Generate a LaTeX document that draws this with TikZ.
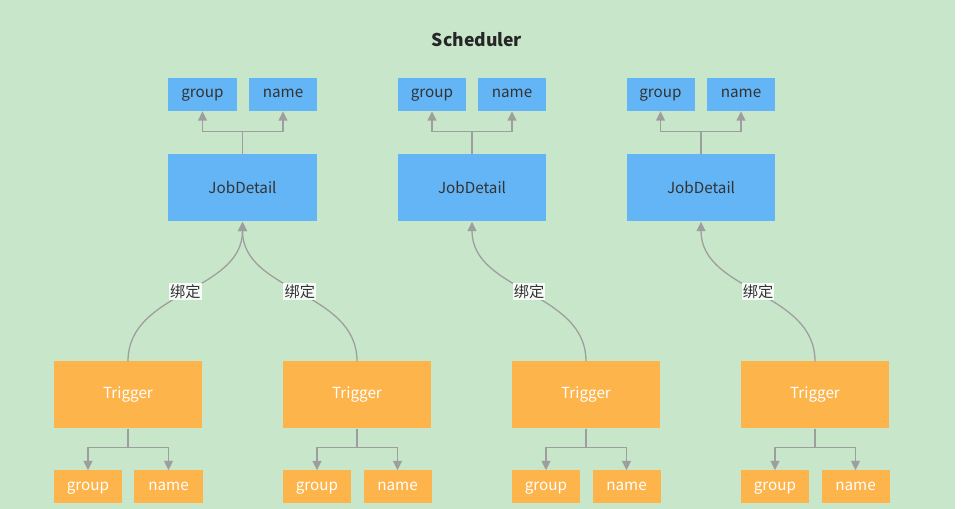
\documentclass[tikz,border=0pt]{standalone}
\usepackage{fontspec}
\setmainfont{Noto Sans CJK SC}
\usetikzlibrary{arrows.meta}
\definecolor{bggreen}{HTML}{C8E6C9}
\definecolor{jobblue}{HTML}{64B5F6}
\definecolor{trigorange}{HTML}{FDB44B}
\definecolor{linegray}{HTML}{9E9E9E}
\definecolor{txtdark}{HTML}{333333}
\tikzset{
  jobbox/.style={fill=jobblue,text=txtdark,inner sep=0pt,minimum width=4.44cm,minimum height=2.01cm},
  jobkey/.style={fill=jobblue,text=txtdark,inner sep=0pt,minimum width=2.04cm,minimum height=0.99cm,text height=1.6ex,text depth=.5ex},
  trigbox/.style={fill=trigorange,text=white,inner sep=0pt,minimum width=4.44cm,minimum height=2.01cm},
  trigkey/.style={fill=trigorange,text=white,inner sep=0pt,minimum width=2.04cm,minimum height=0.99cm,text height=1.6ex,text depth=.5ex},
  arr/.style={draw=linegray,line width=1.1pt,-{Triangle[width=7.5pt,length=8pt]}},
  bind/.style={fill=white!85!bggreen,text=txtdark,inner sep=1pt}
}
\begin{document}
\begin{tikzpicture}[x=0.03cm,y=0.03cm]
		  \tikzstyle{every node}=[font=\fontsize{13}{15}\selectfont]
		  \useasboundingbox (0,0) rectangle (966,509);
		  \fill[bggreen](0,0) rectangle (955,509);
		  \node[font=\fontsize{15}{18}\selectfont\bfseries,text=black!85] (title) at (477,469) {Scheduler};
		  % job details
		  \node[jobbox] (jd1) at (242.5,321) {JobDetail};
		  \node[jobbox] (jd2) at (472,321) {JobDetail};
		  \node[jobbox] (jd3) at (701,321) {JobDetail};
		  \node[jobkey] (jg1) at (202.5,414.5) {group};
		  \node[jobkey] (jn1) at (283,414.5) {name};
		  \node[jobkey] (jg2) at (432,414.5) {group};
		  \node[jobkey] (jn2) at (512,414.5) {name};
		  \node[jobkey] (jg3) at (660.5,414.5) {group};
		  \node[jobkey] (jn3) at (741,414.5) {name};
		  \draw[arr](jd1.north)--++(0,23)-|(jg1.south);
		  \draw[arr](jd1.north)--++(0,23)-|(jn1.south);
		  \draw[arr](jd2.north)--++(0,23)-|(jg2.south);
		  \draw[arr](jd2.north)--++(0,23)-|(jn2.south);
		  \draw[arr](jd3.north)--++(0,23)-|(jg3.south);
		  \draw[arr](jd3.north)--++(0,23)-|(jn3.south);
		  % triggers
		  \node[trigbox] (tr1) at (128,114) {Trigger};
		  \node[trigbox] (tr2) at (357,114) {Trigger};
		  \node[trigbox] (tr3) at (586,114) {Trigger};
		  \node[trigbox] (tr4) at (815,114) {Trigger};
		  \node[trigkey] (tg1) at (88,22) {group};
		  \node[trigkey] (tn1) at (168.5,22) {name};
		  \node[trigkey] (tg2) at (317,22) {group};
		  \node[trigkey] (tn2) at (397.5,22) {name};
		  \node[trigkey] (tg3) at (546,22) {group};
		  \node[trigkey] (tn3) at (626.5,22) {name};
		  \node[trigkey] (tg4) at (775,22) {group};
		  \node[trigkey] (tn4) at (855.5,22) {name};
		  \draw[arr](tr1.south)--++(0,-19)-|(tg1.north);
		  \draw[arr](tr1.south)--++(0,-19)-|(tn1.north);
		  \draw[arr](tr2.south)--++(0,-19)-|(tg2.north);
		  \draw[arr](tr2.south)--++(0,-19)-|(tn2.north);
		  \draw[arr](tr3.south)--++(0,-19)-|(tg3.north);
		  \draw[arr](tr3.south)--++(0,-19)-|(tn3.north);
		  \draw[arr](tr4.south)--++(0,-19)-|(tg4.north);
		  \draw[arr](tr4.south)--++(0,-19)-|(tn4.north);
		  % bindings
		  \draw[arr](tr1.north) to[out=90,in=-90] node[bind,pos=0.5]{绑定} (jd1.south);
		  \draw[arr](tr2.north) to[out=90,in=-90] node[bind,pos=0.5]{绑定} (jd1.south);
		  \draw[arr](tr3.north) to[out=90,in=-90] node[bind,pos=0.5]{绑定} (jd2.south);
		  \draw[arr](tr4.north) to[out=90,in=-90] node[bind,pos=0.5]{绑定} (jd3.south);
		\end{tikzpicture}
\end{document}
